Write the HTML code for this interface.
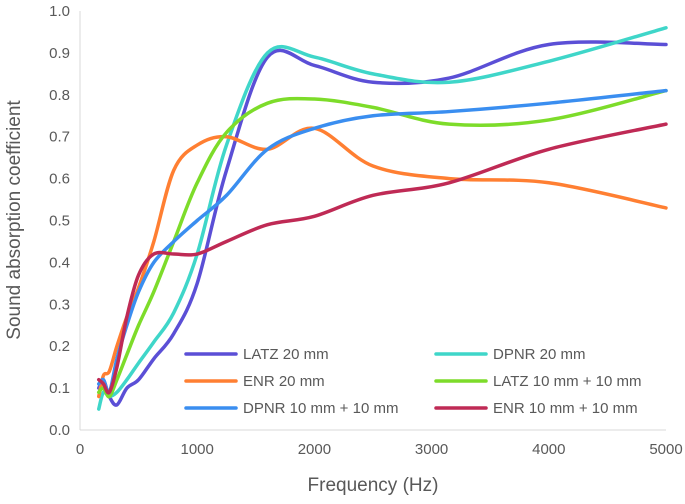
<!DOCTYPE html>
<html><head><meta charset="utf-8"><style>
body{margin:0;background:#fff}
text{font-family:"Liberation Sans",sans-serif;fill:#595959}
</style></head><body>
<svg id="chart" width="685" height="499">
<g id="axes"></g><g id="series"></g><g id="legend"></g>
</svg>
<script>
const xTicks=[0,1000,2000,3000,4000,5000];
const yTicks=[0,0.1,0.2,0.3,0.4,0.5,0.6,0.7,0.8,0.9,1.0];
const seriesNames=["LATZ 20 mm","DPNR 20 mm","ENR 20 mm","LATZ 10 mm + 10 mm","DPNR 10 mm + 10 mm","ENR 10 mm + 10 mm"];
const seriesColors=["#5b4fd6","#3fd6c9","#ff7f32","#7ddc2a","#3a8ef0","#bf2a55"];
const freqs=[160,200,250,315,400,500,630,800,1000,1250,1600,2000,2500,3150,4000,5000];
const latz20=[0.10,0.12,0.08,0.06,0.10,0.12,0.17,0.23,0.35,0.62,0.89,0.87,0.83,0.84,0.92,0.92];
const dpnr20=[0.05,0.09,0.08,0.09,0.12,0.16,0.21,0.28,0.42,0.68,0.90,0.89,0.85,0.83,0.88,0.96];
const enr20=[0.08,0.13,0.14,0.20,0.27,0.34,0.45,0.62,0.68,0.70,0.67,0.72,0.63,0.60,0.59,0.53];
const latz1010=[0.09,0.10,0.08,0.12,0.18,0.25,0.33,0.45,0.59,0.71,0.78,0.79,0.77,0.73,0.74,0.81];
const dpnr1010=[0.11,0.12,0.09,0.17,0.25,0.33,0.40,0.45,0.50,0.56,0.67,0.72,0.75,0.76,0.78,0.81];
const enr1010=[0.12,0.11,0.09,0.15,0.27,0.37,0.42,0.42,0.42,0.45,0.49,0.51,0.56,0.59,0.67,0.73];
const allSeries=[latz20,dpnr20,enr20,latz1010,dpnr1010,enr1010];

const NS="http://www.w3.org/2000/svg";
const X=f=>80+f*(586/5000);
const Y=v=>430-v*419;
function mk(tag,attrs,parent){const e=document.createElementNS(NS,tag);for(const k in attrs)e.setAttribute(k,attrs[k]);parent.appendChild(e);return e;}
const axes=document.getElementById('axes');
let e=mk('line',{x1:80,y1:Y(0),x2:666,y2:Y(0),stroke:'#d9d9d9','stroke-width':1},axes);

e=mk('line',{x1:80,y1:Y(0),x2:80,y2:Y(1),stroke:'#d9d9d9','stroke-width':1},axes);

xTicks.forEach(t=>{const tx=mk('text',{x:X(t),y:Y(0)+24,'text-anchor':'middle','font-size':15},axes);tx.textContent=t;
});
yTicks.forEach(t=>{const tx=mk('text',{x:70,y:Y(t)+5,'text-anchor':'end','font-size':15},axes);tx.textContent=t.toFixed(1);
});
e=mk('text',{x:373,y:491,'text-anchor':'middle','font-size':19},axes);e.textContent='Frequency (Hz)';

e=mk('text',{x:0,y:0,'text-anchor':'middle','font-size':19,transform:'translate(20,220) rotate(-90)'},axes);e.textContent='Sound absorption coefficient';


function smooth(pts){let d=`M${pts[0][0]},${pts[0][1]}`;
for(let i=0;i<pts.length-1;i++){const p0=pts[Math.max(0,i-1)],p1=pts[i],p2=pts[i+1],p3=pts[Math.min(pts.length-1,i+2)];
const c1=[p1[0]+(p2[0]-p0[0])/6,p1[1]+(p2[1]-p0[1])/6],c2=[p2[0]-(p3[0]-p1[0])/6,p2[1]-(p3[1]-p1[1])/6];
d+=` C${c1[0]},${c1[1]} ${c2[0]},${c2[1]} ${p2[0]},${p2[1]}`;}return d;}
const sg=document.getElementById('series');
allSeries.forEach((vals,i)=>{const pts=vals.map((v,j)=>[X(freqs[j]),Y(v)]);
const p=mk('path',{d:smooth(pts),fill:'none',stroke:seriesColors[i],'stroke-width':3.5,'stroke-linecap':'round'},sg);
});
const lg=document.getElementById('legend');
seriesNames.forEach((n,i)=>{const col=i%2,row=Math.floor(i/2);const lx=col?436:186,ly=354+row*27;
const g=mk('g',{},lg);
mk('line',{x1:lx,y1:ly,x2:lx+50,y2:ly,stroke:seriesColors[i],'stroke-width':3.5,'stroke-linecap':'round'},g);
const t=mk('text',{x:lx+57,y:ly+5,'font-size':15},g);t.textContent=n;});
</script>
</body></html>
